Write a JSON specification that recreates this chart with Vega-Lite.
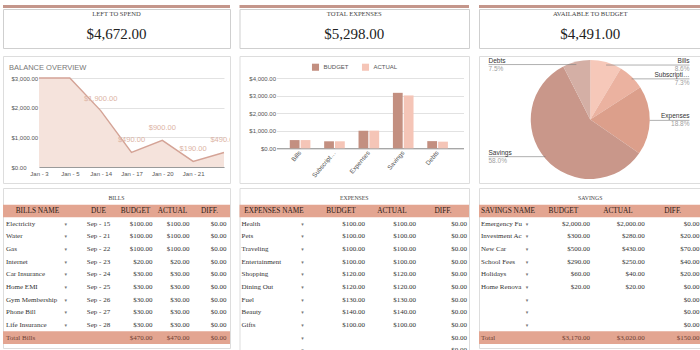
{
  "$schema": "https://vega.github.io/schema/vega-lite/v6.json",
  "background": "white",
  "padding": {"left": 2, "top": 5, "right": 0, "bottom": 0},
  "spacing": 6,
  "resolve": {"scale": {"color": "independent"}, "legend": {"color": "independent"}},
  "config": {
    "view": {"stroke": null},
    "font": "Liberation Sans",
    "axis": {"labelFont": "Liberation Sans", "titleFont": "Liberation Sans"},
    "legend": {"labelFont": "Liberation Sans"},
    "title": {"font": "Liberation Sans"}
  },
  "datasets": {
    "cards": [
      {"card": "LEFT TO SPEND", "amount": 4672},
      {"card": "TOTAL EXPENSES", "amount": 5298},
      {"card": "AVAILABLE TO BUDGET", "amount": 4491}
    ],
    "balance": [
      {"date": "Jan - 3", "balance": 3000},
      {"date": "Jan - 5", "balance": 3000},
      {"date": "Jan - 14", "balance": 1900},
      {"date": "Jan - 17", "balance": 490},
      {"date": "Jan - 20", "balance": 900},
      {"date": "Jan - 21", "balance": 190},
      {"date": "Jan - 24", "balance": 490}
    ],
    "categories": [
      {"category": "Bills", "budget": 470, "actual": 470, "share": 8.6},
      {"category": "Subscriptions", "budget": 400, "actual": 400, "share": 7.3},
      {"category": "Expenses", "budget": 1010, "actual": 1010, "share": 18.8},
      {"category": "Savings", "budget": 3170, "actual": 3020, "share": 58.0},
      {"category": "Debts", "budget": 410, "actual": 380, "share": 7.5}
    ],
    "bills": [
      {"kind": "title", "name": "BILLS"},
      {"kind": "header", "name": "BILLS NAME", "due": "DUE", "budget": "BUDGET", "actual": "ACTUAL", "diff": "DIFF."},
      {"kind": "item", "name": "Electricity", "due": "Sep - 15", "budget": 100, "actual": 100, "diff": 0},
      {"kind": "item", "name": "Water", "due": "Sep - 21", "budget": 100, "actual": 100, "diff": 0},
      {"kind": "item", "name": "Gas", "due": "Sep - 22", "budget": 100, "actual": 100, "diff": 0},
      {"kind": "item", "name": "Internet", "due": "Sep - 23", "budget": 20, "actual": 20, "diff": 0},
      {"kind": "item", "name": "Car Insurance", "due": "Sep - 24", "budget": 30, "actual": 30, "diff": 0},
      {"kind": "item", "name": "Home EMI", "due": "Sep - 25", "budget": 30, "actual": 30, "diff": 0},
      {"kind": "item", "name": "Gym Membership", "due": "Sep - 26", "budget": 30, "actual": 30, "diff": 0},
      {"kind": "item", "name": "Phone Bill", "due": "Sep - 27", "budget": 30, "actual": 30, "diff": 0},
      {"kind": "item", "name": "Life Insurance", "due": "Sep - 28", "budget": 30, "actual": 30, "diff": 0},
      {"kind": "total", "name": "Total Bills", "budget": 470, "actual": 470, "diff": 0}
    ],
    "expenses": [
      {"kind": "title", "name": "EXPENSES"},
      {"kind": "header", "name": "EXPENSES NAME", "budget": "BUDGET", "actual": "ACTUAL", "diff": "DIFF."},
      {"kind": "item", "name": "Health", "budget": 100, "actual": 100, "diff": 0},
      {"kind": "item", "name": "Pets", "budget": 100, "actual": 100, "diff": 0},
      {"kind": "item", "name": "Traveling", "budget": 100, "actual": 100, "diff": 0},
      {"kind": "item", "name": "Entertainment", "budget": 100, "actual": 100, "diff": 0},
      {"kind": "item", "name": "Shopping", "budget": 120, "actual": 120, "diff": 0},
      {"kind": "item", "name": "Dining Out", "budget": 120, "actual": 120, "diff": 0},
      {"kind": "item", "name": "Fuel", "budget": 130, "actual": 130, "diff": 0},
      {"kind": "item", "name": "Beauty", "budget": 140, "actual": 140, "diff": 0},
      {"kind": "item", "name": "Gifts", "budget": 100, "actual": 100, "diff": 0},
      {"kind": "item", "name": "", "diff": 0},
      {"kind": "item", "name": "", "diff": 0}
    ],
    "savings": [
      {"kind": "title", "name": "SAVINGS"},
      {"kind": "header", "name": "SAVINGS NAME", "budget": "BUDGET", "actual": "ACTUAL", "diff": "DIFF."},
      {"kind": "item", "name": "Emergency Fund", "budget": 2000, "actual": 2000, "diff": 0},
      {"kind": "item", "name": "Investment Account", "budget": 300, "actual": 280, "diff": 20},
      {"kind": "item", "name": "New Car", "budget": 500, "actual": 430, "diff": 70},
      {"kind": "item", "name": "School Fees", "budget": 290, "actual": 250, "diff": 40},
      {"kind": "item", "name": "Holidays", "budget": 60, "actual": 40, "diff": 20},
      {"kind": "item", "name": "Home Renovation", "budget": 20, "actual": 20, "diff": 0},
      {"kind": "item", "name": "", "diff": 0},
      {"kind": "item", "name": "", "diff": 0},
      {"kind": "item", "name": "", "diff": 0},
      {"kind": "total", "name": "Total", "budget": 3170, "actual": 3020, "diff": 150}
    ]
  },
  "vconcat": [
    {
      "spacing": 0,
      "vconcat": [
        {
          "bounds": "flush", "spacing": 9.5,
          "hconcat": [
            {"width": 227, "height": 3, "data": {"name": "cards"}, "transform": [{"filter": "datum.card === 'LEFT TO SPEND'"}], "mark": {"type": "rect", "color": "#c4968b"}},
            {"width": 229.5, "height": 3, "data": {"name": "cards"}, "transform": [{"filter": "datum.card === 'TOTAL EXPENSES'"}], "mark": {"type": "rect", "color": "#c4968b"}},
            {"width": 222.5, "height": 3, "data": {"name": "cards"}, "transform": [{"filter": "datum.card === 'AVAILABLE TO BUDGET'"}], "mark": {"type": "rect", "color": "#c4968b"}}
          ]
        },
        {
          "bounds": "flush", "spacing": 9.5,
          "hconcat": [
            {
              "width": 227, "height": 39,
              "view": {"stroke": "#cfcfcf"},
              "data": {"name": "cards"},
              "transform": [{"filter": "datum.card === 'LEFT TO SPEND'"}],
              "layer": [
                {"mark": {"type": "text", "font": "Liberation Serif", "fontSize": 6.6, "color": "#444444"},
                 "encoding": {"text": {"field": "card"}, "y": {"datum": "title", "type": "nominal", "scale": {"type": "point", "domain": ["title", "amount"], "range": [4.5, 24.5], "padding": 0}, "axis": null}}},
                {"mark": {"type": "text", "font": "Liberation Serif", "fontSize": 15, "color": "#222222"},
                 "encoding": {"text": {"field": "amount", "type": "quantitative", "format": "$,.2f"}, "y": {"datum": "amount", "type": "nominal"}}}
              ]
            },
            {
              "width": 229.5, "height": 39,
              "view": {"stroke": "#cfcfcf"},
              "data": {"name": "cards"},
              "transform": [{"filter": "datum.card === 'TOTAL EXPENSES'"}],
              "layer": [
                {"mark": {"type": "text", "font": "Liberation Serif", "fontSize": 6.6, "color": "#444444"},
                 "encoding": {"text": {"field": "card"}, "y": {"datum": "title", "type": "nominal", "scale": {"type": "point", "domain": ["title", "amount"], "range": [4.5, 24.5], "padding": 0}, "axis": null}}},
                {"mark": {"type": "text", "font": "Liberation Serif", "fontSize": 15, "color": "#222222"},
                 "encoding": {"text": {"field": "amount", "type": "quantitative", "format": "$,.2f"}, "y": {"datum": "amount", "type": "nominal"}}}
              ]
            },
            {
              "width": 222.5, "height": 39,
              "view": {"stroke": "#cfcfcf"},
              "data": {"name": "cards"},
              "transform": [{"filter": "datum.card === 'AVAILABLE TO BUDGET'"}],
              "layer": [
                {"mark": {"type": "text", "font": "Liberation Serif", "fontSize": 6.6, "color": "#444444"},
                 "encoding": {"text": {"field": "card"}, "y": {"datum": "title", "type": "nominal", "scale": {"type": "point", "domain": ["title", "amount"], "range": [4.5, 24.5], "padding": 0}, "axis": null}}},
                {"mark": {"type": "text", "font": "Liberation Serif", "fontSize": 15, "color": "#222222"},
                 "encoding": {"text": {"field": "amount", "type": "quantitative", "format": "$,.2f"}, "y": {"datum": "amount", "type": "nominal"}}}
              ]
            }
          ]
        }
      ]
    },
    {
      "spacing": 3,
      "resolve": {"scale": {"color": "independent"}, "legend": {"color": "independent"}},
      "vconcat": [
        {
          "bounds": "flush", "spacing": 9.5,
          "resolve": {"scale": {"color": "independent"}, "legend": {"color": "independent"}},
          "hconcat": [
            {
              "width": 227, "height": 127,
              "view": {"stroke": "#dddddd"},
              "title": {"text": "BALANCE OVERVIEW", "anchor": "start", "frame": "group", "fontSize": 7.5, "fontWeight": "normal", "color": "#777777", "offset": -15, "dx": 6},
              "data": {"name": "balance"},
              "encoding": {
                "x": {"field": "date", "type": "ordinal",
                      "scale": {"type": "point", "domain": ["Jan - 3", "Jan - 5", "Jan - 14", "Jan - 17", "Jan - 20", "Jan - 21", "Jan - 24"], "range": [36, 221], "padding": 0},
                      "axis": {"title": null, "orient": "bottom", "offset": -16, "values": ["Jan - 3", "Jan - 5", "Jan - 14", "Jan - 17", "Jan - 20", "Jan - 21"], "labelAngle": 0, "labelFontSize": 6, "labelColor": "#555555", "labelPadding": 3, "ticks": false, "tickSize": 0, "domain": true, "domainColor": "#9a9a9a", "grid": false}},
                "y": {"field": "balance", "type": "quantitative",
                      "scale": {"domain": [0, 3000], "range": [111, 22], "nice": false},
                      "axis": {"title": null, "offset": -8, "values": [0, 1000, 2000, 3000], "format": "$,.2f", "labelAlign": "left", "labelBaseline": "middle", "labelFlush": false, "labelPadding": 0, "ticks": false, "tickSize": 0, "domain": false, "grid": true, "gridColor": "#e2e2e2", "labelFontSize": 6, "labelColor": "#555555"}}
              },
              "layer": [
                {"mark": {"type": "area", "color": "#f5e3dc"}, "encoding": {}},
                {"mark": {"type": "line", "color": "#d4a396", "strokeWidth": 1.4}, "encoding": {}},
                {"transform": [{"filter": "datum.balance < 3000"}],
                 "mark": {"type": "text", "color": "#dcb3a4", "fontSize": 7.5, "dy": -12, "clip": true},
                 "encoding": {"text": {"field": "balance", "type": "quantitative", "format": "$,.2f"}}}
              ]
            },
            {
              "width": 229.5, "height": 127,
              "view": {"stroke": "#dddddd"},
              "data": {"name": "categories"},
              "transform": [{"fold": ["budget", "actual"], "as": ["series", "amount"]}],
              "mark": {"type": "bar"},
              "encoding": {
                "x": {"field": "category", "type": "nominal",
                      "scale": {"domain": ["Bills", "Subscriptions", "Expenses", "Savings", "Debts"], "range": [37, 224], "paddingInner": 0.4, "paddingOuter": 0.42, "align": 0.46},
                      "axis": {"title": null, "offset": -34.7, "labelAngle": -50, "labelFontSize": 6.3, "labelColor": "#555555", "labelPadding": 3, "labelLimit": 33, "ticks": false, "tickSize": 0, "domain": true, "domainColor": "#8f8f8f", "grid": false}},
                "xOffset": {"field": "series", "type": "nominal", "scale": {"domain": ["budget", "actual"], "paddingInner": 0.1}},
                "y": {"field": "amount", "type": "quantitative",
                      "scale": {"domain": [0, 4000], "range": [92.3, 22.3], "nice": false},
                      "axis": {"title": null, "offset": -38, "values": [0, 1000, 2000, 3000, 4000], "format": "$,.2f", "labelBaseline": "middle", "labelFlush": false, "labelPadding": 2, "ticks": false, "tickSize": 0, "domain": false, "grid": true, "gridColor": "#e2e2e2", "labelFontSize": 6, "labelColor": "#555555"}},
                "color": {"field": "series", "type": "nominal",
                          "scale": {"domain": ["budget", "actual"], "range": ["#c38f80", "#f5c5b7"]},
                          "legend": {"orient": "none", "legendX": 72, "legendY": 7, "direction": "horizontal", "title": null, "symbolType": "square", "symbolSize": 50, "symbolStrokeWidth": 0, "labelFontSize": 6, "labelColor": "#555555", "columnPadding": 12, "labelOffset": 4, "labelExpr": "upper(datum.label)"}}
              }
            },
            {
              "width": 222.5, "height": 127,
              "view": {"stroke": "#dddddd"},
              "data": {"name": "categories"},
              "transform": [
                {"window": [{"op": "row_number", "as": "idx"}]},
                {"joinaggregate": [{"op": "sum", "field": "share", "as": "total"}]},
                {"window": [{"op": "sum", "field": "share", "as": "cum"}], "sort": [{"field": "idx"}], "frame": [null, 0]},
                {"calculate": "(datum.cum - datum.share / 2) / datum.total * 2 * PI", "as": "mid"},
                {"calculate": "sin(datum.mid)", "as": "ex"},
                {"calculate": "cos(datum.mid)", "as": "ey"},
                {"calculate": "datum.ex > 0 ? 1.668 : -1.71", "as": "lx"},
                {"calculate": "format(datum.share, '.1f') + '%'", "as": "pct"}
              ],
              "layer": [
                {"mark": {"type": "arc", "outerRadius": 59.5},
                 "encoding": {
                   "theta": {"field": "share", "type": "quantitative", "stack": true},
                   "order": {"field": "idx", "type": "quantitative"},
                   "color": {"field": "category", "type": "nominal", "legend": null,
                             "scale": {"domain": ["Bills", "Subscriptions", "Expenses", "Savings", "Debts"], "range": ["#f6c8b9", "#ebb2a0", "#dc9f8b", "#c9978a", "#d4afa5"]}}
                 }},
                {"mark": {"type": "rule", "color": "#7a7a7a", "strokeWidth": 0.6},
                 "encoding": {
                   "x": {"field": "ex", "type": "quantitative", "scale": {"domain": [-1, 1], "range": [51.75, 170.75], "nice": false, "zero": false}, "axis": null},
                   "x2": {"field": "lx"},
                   "y": {"field": "ey", "type": "quantitative", "scale": {"domain": [-1, 1], "range": [120, 7], "nice": false, "zero": false}, "axis": null}
                 }},
                {"transform": [{"filter": "datum.ex > 0"}],
                 "mark": {"type": "text", "align": "right", "baseline": "bottom", "dy": -1, "fontSize": 6.5, "color": "#333333", "limit": 38},
                 "encoding": {"text": {"field": "category"}, "x": {"field": "lx", "type": "quantitative"}, "y": {"field": "ey", "type": "quantitative"}}},
                {"transform": [{"filter": "datum.ex > 0"}],
                 "mark": {"type": "text", "align": "right", "baseline": "top", "dy": 1, "fontSize": 6.5, "color": "#a0a0a0"},
                 "encoding": {"text": {"field": "pct"}, "x": {"field": "lx", "type": "quantitative"}, "y": {"field": "ey", "type": "quantitative"}}},
                {"transform": [{"filter": "datum.ex <= 0"}],
                 "mark": {"type": "text", "align": "left", "baseline": "bottom", "dy": -1, "fontSize": 6.5, "color": "#333333", "limit": 38},
                 "encoding": {"text": {"field": "category"}, "x": {"field": "lx", "type": "quantitative"}, "y": {"field": "ey", "type": "quantitative"}}},
                {"transform": [{"filter": "datum.ex <= 0"}],
                 "mark": {"type": "text", "align": "left", "baseline": "top", "dy": 1, "fontSize": 6.5, "color": "#a0a0a0"},
                 "encoding": {"text": {"field": "pct"}, "x": {"field": "lx", "type": "quantitative"}, "y": {"field": "ey", "type": "quantitative"}}}
              ]
            }
          ]
        },
        {
          "bounds": "flush", "spacing": 9.5,
          "hconcat": [
            {
              "width": 227, "height": 160,
              "view": {"stroke": "#dddddd"},
              "data": {"name": "bills"},
              "transform": [{"window": [{"op": "row_number", "as": "row"}]}],
              "encoding": {"y": {"field": "row", "type": "ordinal", "scale": {"type": "band", "range": [4, 156], "paddingInner": 0, "paddingOuter": 0}, "axis": null}},
              "resolve": {"scale": {"x": "independent"}},
              "layer": [
                {"transform": [{"filter": "datum.kind === 'header' || datum.kind === 'total'"}], "mark": {"type": "rect", "color": "#e3a591"}},
                {"transform": [{"filter": "datum.kind === 'title'"}], "mark": {"type": "text", "font": "Liberation Serif", "fontSize": 5.8, "color": "#444444"}, "encoding": {"text": {"field": "name"}}},
                {"transform": [{"filter": "datum.kind === 'header'"}], "mark": {"type": "text", "font": "Liberation Serif", "fontSize": 7.3, "color": "#2a1a15", "align": "center"},
                 "encoding": {"text": {"field": "name"}, "x": {"datum": "name", "type": "nominal", "bandPosition": 0.5, "scale": {"type": "band", "domain": ["name"], "range": [3, 66], "paddingInner": 0, "paddingOuter": 0}, "axis": null}}},
                {"transform": [{"filter": "datum.kind === 'header'"}, {"fold": ["due", "budget", "actual", "diff"], "as": ["key", "value"]}], "mark": {"type": "text", "font": "Liberation Serif", "fontSize": 7.3, "color": "#2a1a15", "align": "center"},
                 "encoding": {"text": {"field": "value"}, "x": {"field": "key", "type": "nominal", "bandPosition": 0.5, "scale": {"type": "band", "domain": ["due", "budget", "actual", "diff"], "range": [77, 225], "paddingInner": 0, "paddingOuter": 0}, "axis": null}}},
                {"transform": [{"filter": "datum.kind === 'item' || datum.kind === 'total'"}], "mark": {"type": "text", "font": "Liberation Serif", "fontSize": 7, "align": "left", "limit": 57, "ellipsis": " "},
                 "encoding": {"text": {"field": "name"}, "x": {"datum": "name", "type": "nominal", "bandPosition": 0, "scale": {"type": "band", "domain": ["name"], "range": [3, 66], "paddingInner": 0, "paddingOuter": 0}, "axis": null},
                              "color": {"condition": {"test": "datum.kind === 'total'", "value": "#6d3f34"}, "value": "#333333"}}},
                {"transform": [{"filter": "datum.kind === 'item'"}], "mark": {"type": "text", "font": "DejaVu Sans", "fontSize": 5, "color": "#777777"},
                 "encoding": {"text": {"value": "▾"}, "x": {"datum": "name", "type": "nominal", "bandPosition": 0.95, "scale": {"type": "band", "domain": ["name"], "range": [3, 66], "paddingInner": 0, "paddingOuter": 0}, "axis": null}}},
                {"transform": [{"filter": "datum.kind === 'item'"}], "mark": {"type": "text", "font": "Liberation Serif", "fontSize": 7, "align": "center", "color": "#333333"},
                 "encoding": {"text": {"field": "due"}, "x": {"datum": "due", "type": "nominal", "bandPosition": 0.5, "scale": {"type": "band", "domain": ["due", "budget", "actual", "diff"], "range": [77, 225], "paddingInner": 0, "paddingOuter": 0}, "axis": null}}},
                {"transform": [{"filter": "datum.kind === 'item' || datum.kind === 'total'"}, {"fold": ["budget", "actual", "diff"], "as": ["key", "value"]}, {"filter": "isValid(datum.value)"}],
                 "mark": {"type": "text", "font": "Liberation Serif", "fontSize": 7, "align": "right"},
                 "encoding": {"text": {"field": "value", "type": "quantitative", "format": "$,.2f"}, "x": {"field": "key", "type": "nominal", "bandPosition": 0.96, "scale": {"type": "band", "domain": ["due", "budget", "actual", "diff"], "range": [77, 225], "paddingInner": 0, "paddingOuter": 0}, "axis": null},
                              "color": {"condition": {"test": "datum.kind === 'total'", "value": "#6d3f34"}, "value": "#333333"}}}
              ]
            },
            {
              "width": 229.5, "height": 163,
              "view": {"stroke": "#dddddd"},
              "data": {"name": "expenses"},
              "transform": [{"window": [{"op": "row_number", "as": "row"}]}],
              "encoding": {"y": {"field": "row", "type": "ordinal", "scale": {"type": "band", "range": [4, 168.7], "paddingInner": 0, "paddingOuter": 0}, "axis": null}},
              "resolve": {"scale": {"x": "independent"}},
              "layer": [
                {"transform": [{"filter": "datum.kind === 'header' || datum.kind === 'total'"}], "mark": {"type": "rect", "color": "#e3a591"}},
                {"transform": [{"filter": "datum.kind === 'title'"}], "mark": {"type": "text", "font": "Liberation Serif", "fontSize": 5.8, "color": "#444444"}, "encoding": {"text": {"field": "name"}}},
                {"transform": [{"filter": "datum.kind === 'header'"}], "mark": {"type": "text", "font": "Liberation Serif", "fontSize": 7.3, "color": "#2a1a15", "align": "center"},
                 "encoding": {"text": {"field": "name"}, "x": {"datum": "name", "type": "nominal", "bandPosition": 0.5, "scale": {"type": "band", "domain": ["name"], "range": [2, 67], "paddingInner": 0, "paddingOuter": 0}, "axis": null}}},
                {"transform": [{"filter": "datum.kind === 'header'"}, {"fold": ["budget", "actual", "diff"], "as": ["key", "value"]}], "mark": {"type": "text", "font": "Liberation Serif", "fontSize": 7.3, "color": "#2a1a15", "align": "center"},
                 "encoding": {"text": {"field": "value"}, "x": {"field": "key", "type": "nominal", "bandPosition": 0.5, "scale": {"type": "band", "domain": ["budget", "actual", "diff"], "range": [76, 229], "paddingInner": 0, "paddingOuter": 0}, "axis": null}}},
                {"transform": [{"filter": "datum.kind === 'item' || datum.kind === 'total'"}], "mark": {"type": "text", "font": "Liberation Serif", "fontSize": 7, "align": "left", "limit": 58, "ellipsis": " ", "clip": true},
                 "encoding": {"text": {"field": "name"}, "x": {"datum": "name", "type": "nominal", "bandPosition": 0, "scale": {"type": "band", "domain": ["name"], "range": [2, 67], "paddingInner": 0, "paddingOuter": 0}, "axis": null},
                              "color": {"condition": {"test": "datum.kind === 'total'", "value": "#6d3f34"}, "value": "#333333"}}},
                {"transform": [{"filter": "datum.kind === 'item'"}], "mark": {"type": "text", "font": "DejaVu Sans", "fontSize": 5, "color": "#777777", "clip": true},
                 "encoding": {"text": {"value": "▾"}, "x": {"datum": "name", "type": "nominal", "bandPosition": 0.94, "scale": {"type": "band", "domain": ["name"], "range": [2, 67], "paddingInner": 0, "paddingOuter": 0}, "axis": null}}},
                {"transform": [{"filter": "datum.kind === 'item' || datum.kind === 'total'"}, {"fold": ["budget", "actual", "diff"], "as": ["key", "value"]}, {"filter": "isValid(datum.value)"}],
                 "mark": {"type": "text", "font": "Liberation Serif", "fontSize": 7, "align": "right", "clip": true},
                 "encoding": {"text": {"field": "value", "type": "quantitative", "format": "$,.2f"}, "x": {"field": "key", "type": "nominal", "bandPosition": 0.97, "scale": {"type": "band", "domain": ["budget", "actual", "diff"], "range": [76, 229], "paddingInner": 0, "paddingOuter": 0}, "axis": null},
                              "color": {"condition": {"test": "datum.kind === 'total'", "value": "#6d3f34"}, "value": "#333333"}}}
              ]
            },
            {
              "width": 222.5, "height": 160,
              "view": {"stroke": "#dddddd"},
              "data": {"name": "savings"},
              "transform": [{"window": [{"op": "row_number", "as": "row"}]}],
              "encoding": {"y": {"field": "row", "type": "ordinal", "scale": {"type": "band", "range": [4, 156], "paddingInner": 0, "paddingOuter": 0}, "axis": null}},
              "resolve": {"scale": {"x": "independent"}},
              "layer": [
                {"transform": [{"filter": "datum.kind === 'header' || datum.kind === 'total'"}], "mark": {"type": "rect", "color": "#e3a591"}},
                {"transform": [{"filter": "datum.kind === 'title'"}], "mark": {"type": "text", "font": "Liberation Serif", "fontSize": 5.8, "color": "#444444"}, "encoding": {"text": {"field": "name"}}},
                {"transform": [{"filter": "datum.kind === 'header'"}], "mark": {"type": "text", "font": "Liberation Serif", "fontSize": 7.3, "color": "#2a1a15", "align": "center"},
                 "encoding": {"text": {"field": "name"}, "x": {"datum": "name", "type": "nominal", "bandPosition": 0.5, "scale": {"type": "band", "domain": ["name"], "range": [2, 56], "paddingInner": 0, "paddingOuter": 0}, "axis": null}}},
                {"transform": [{"filter": "datum.kind === 'header'"}, {"fold": ["budget", "actual", "diff"], "as": ["key", "value"]}], "mark": {"type": "text", "font": "Liberation Serif", "fontSize": 7.3, "color": "#2a1a15", "align": "center"},
                 "encoding": {"text": {"field": "value"}, "x": {"field": "key", "type": "nominal", "bandPosition": 0.5, "scale": {"type": "band", "domain": ["budget", "actual", "diff"], "range": [57, 221], "paddingInner": 0, "paddingOuter": 0}, "axis": null}}},
                {"transform": [{"filter": "datum.kind === 'item' || datum.kind === 'total'"}], "mark": {"type": "text", "font": "Liberation Serif", "fontSize": 7, "align": "left", "limit": 43, "ellipsis": " "},
                 "encoding": {"text": {"field": "name"}, "x": {"datum": "name", "type": "nominal", "bandPosition": 0, "scale": {"type": "band", "domain": ["name"], "range": [2, 56], "paddingInner": 0, "paddingOuter": 0}, "axis": null},
                              "color": {"condition": {"test": "datum.kind === 'total'", "value": "#6d3f34"}, "value": "#333333"}}},
                {"transform": [{"filter": "datum.kind === 'item'"}], "mark": {"type": "text", "font": "DejaVu Sans", "fontSize": 5, "color": "#777777"},
                 "encoding": {"text": {"value": "▾"}, "x": {"datum": "name", "type": "nominal", "bandPosition": 0.85, "scale": {"type": "band", "domain": ["name"], "range": [2, 56], "paddingInner": 0, "paddingOuter": 0}, "axis": null}}},
                {"transform": [{"filter": "datum.kind === 'item' || datum.kind === 'total'"}, {"fold": ["budget", "actual", "diff"], "as": ["key", "value"]}, {"filter": "isValid(datum.value)"}],
                 "mark": {"type": "text", "font": "Liberation Serif", "fontSize": 7, "align": "right"},
                 "encoding": {"text": {"field": "value", "type": "quantitative", "format": "$,.2f"}, "x": {"field": "key", "type": "nominal", "bandPosition": 0.99, "scale": {"type": "band", "domain": ["budget", "actual", "diff"], "range": [57, 221], "paddingInner": 0, "paddingOuter": 0}, "axis": null},
                              "color": {"condition": {"test": "datum.kind === 'total'", "value": "#6d3f34"}, "value": "#333333"}}}
              ]
            }
          ]
        }
      ]
    }
  ]
}
